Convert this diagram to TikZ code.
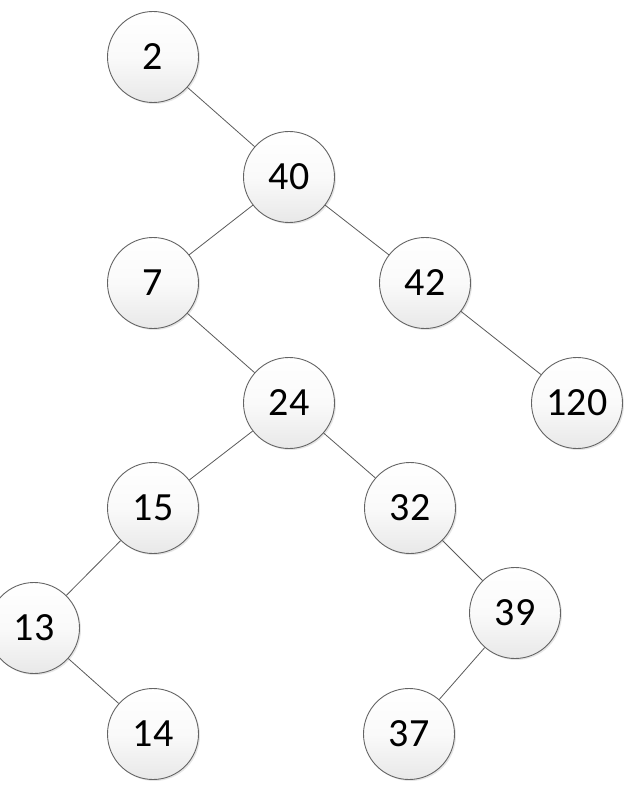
\documentclass[tikz,border=0pt]{standalone}
\usepackage{fontspec}
\setmainfont{Carlito}
\usetikzlibrary{shadows}
\definecolor{edgecol}{RGB}{90,90,90}
\definecolor{rimcol}{RGB}{100,100,100}
\tikzset{
  tnode/.style={circle, draw=rimcol, line width=0.9pt, minimum size=91pt, inner sep=0pt,
    top color=white, bottom color=black!9, middle color=black!2,
    drop shadow={opacity=0.2, shadow xshift=1.5pt, shadow yshift=-1.5pt},
    font=\fontsize{40}{46}\selectfont},
  tedge/.style={draw=edgecol, line width=0.8pt}
}
\begin{document}
\begin{tikzpicture}[x=1pt,y=-1pt]
\useasboundingbox (0,0) rectangle (633,786);
\node[tnode] (n2) at (153,57) {2};
\node[tnode] (n40) at (289,177) {40};
\node[tnode] (n7) at (153,283) {7};
\node[tnode] (n42) at (425,283) {42};
\node[tnode] (n24) at (289,403) {24};
\node[tnode] (n120) at (577,403) {120};
\node[tnode] (n15) at (153,508) {15};
\node[tnode] (n32) at (410,508) {32};
\node[tnode] (n13) at (34,628) {13};
\node[tnode] (n39) at (515,613) {39};
\node[tnode] (n14) at (153,734) {14};
\node[tnode] (n37) at (409,734) {37};
\draw[tedge] (n2) -- (n40);
\draw[tedge] (n40) -- (n7);
\draw[tedge] (n40) -- (n42);
\draw[tedge] (n42) -- (n120);
\draw[tedge] (n7) -- (n24);
\draw[tedge] (n24) -- (n15);
\draw[tedge] (n24) -- (n32);
\draw[tedge] (n15) -- (n13);
\draw[tedge] (n13) -- (n14);
\draw[tedge] (n32) -- (n39);
\draw[tedge] (n39) -- (n37);
\end{tikzpicture}
\end{document}
